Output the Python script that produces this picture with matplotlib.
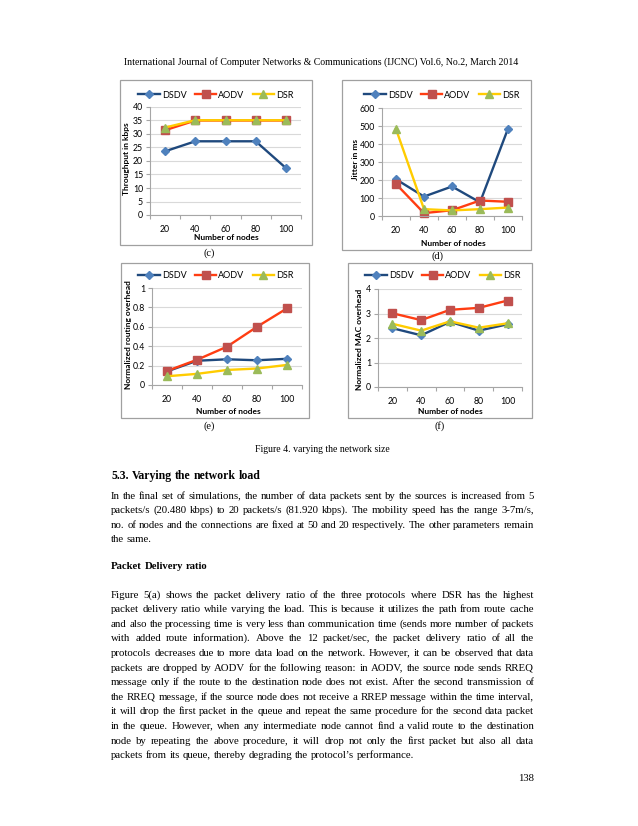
import math
import numpy as np
import matplotlib
matplotlib.use('Agg')
import matplotlib.pyplot as plt
from matplotlib.patches import Rectangle
from matplotlib.font_manager import FontProperties

# values
nodes = ['20', '40', '60', '80', '100']

thr_dsdv = [23.6, 27.3, 27.3, 27.3, 17.4]
thr_aodv = [31.4, 35.0, 35.0, 35.0, 35.0]
thr_dsr = [32.4, 35.1, 35.1, 35.1, 35.1]

jit_dsdv = [204, 108, 164, 76, 485]
jit_aodv = [178, 16, 32, 86, 79]
jit_dsr = [483, 38, 31, 38, 47]

nro_dsdv = [0.14, 0.25, 0.265, 0.255, 0.27]
nro_aodv = [0.145, 0.26, 0.395, 0.60, 0.79]
nro_dsr = [0.09, 0.115, 0.155, 0.17, 0.207]

mac_dsdv = [2.40, 2.11, 2.66, 2.30, 2.56]
mac_aodv = [3.01, 2.73, 3.15, 3.23, 3.53]
mac_dsr = [2.58, 2.30, 2.68, 2.42, 2.60]

header = 'International Journal of Computer Networks & Communications (IJCNC) Vol.6, No.2, March 2014'
fig_caption = 'Figure 4. varying the network size'
heading1 = '5.3. Varying the network load'
heading2 = 'Packet Delivery ratio'
para1 = [
    'In the final set of simulations, the number of data packets sent by the sources is increased from 5',
    'packets/s (20.480 kbps) to 20 packets/s (81.920 kbps). The mobility speed has the range 3-7m/s,',
    'no. of nodes and the connections are fixed at 50 and 20 respectively. The other parameters remain',
    'the same.',
]
para2 = [
    'Figure 5(a) shows the packet delivery ratio of the three protocols where DSR has the highest',
    'packet delivery ratio while varying the load. This is because it utilizes the path from route cache',
    'and also the processing time is very less than communication time (sends more number of packets',
    'with added route information). Above the 12 packet/sec, the packet delivery ratio of all the',
    'protocols decreases due to more data load on the network. However, it can be observed that data',
    'packets are dropped by AODV for the following reason: in AODV, the source node sends RREQ',
    'message only if the route to the destination node does not exist. After the second transmission of',
    'the RREQ message, if the source node does not receive a RREP message within the time interval,',
    'it will drop the first packet in the queue and repeat the same procedure for the second data packet',
    'in the queue. However, when any intermediate node cannot find a valid route to the destination',
    'node by repeating the above procedure, it will drop not only the first packet but also all data',
    'packets from its queue, thereby degrading the protocol\u2019s performance.',
]
page_no = '138'

W, H = 638, 826
fig = plt.figure(figsize=(W / 100, H / 100), dpi=100)
fig.patch.set_facecolor('white')
renderer = fig.canvas.get_renderer()

CHART_FONT = ['Lato', 'DejaVu Sans']
SERIF = ['Liberation Serif', 'DejaVu Serif']

styles = {
    'DSDV': dict(color='#1F497D', marker='D', mfc='#4F81BD', mec='#4F81BD', ms=4.2),
    'AODV': dict(color='#FF3D12', marker='s', mfc='#C0504D', mec='#C0504D', ms=5.2),
    'DSR': dict(color='#FFCC00', marker='^', mfc='#9BBB59', mec='#9BBB59', ms=5.8),
}


def fx(x):
    return x / W


def fy(y):
    return 1 - y / H


def chart(plot_px, frame_px, series, ylim, yticks, ytl, ylabel,
          leg_c, xl_c, yl_c, cap, cap_c):
    x0, y0, x1, y1 = frame_px
    fig.add_artist(Rectangle((fx(x0), fy(y1)), (x1 - x0) / W, (y1 - y0) / H,
                             transform=fig.transFigure, fill=False,
                             ec='#A0A0A0', lw=0.9))
    px0, py0, px1, py1 = plot_px
    ax = fig.add_axes([fx(px0), fy(py1), (px1 - px0) / W, (py1 - py0) / H])
    for name, vals in series:
        ax.plot(nodes, vals, label=name, lw=1.7, clip_on=False, **styles[name])
    ax.set_xlim(-0.5, 4.5)
    ax.set_ylim(ylim)
    ax.set_yticks(yticks)
    ax.set_yticklabels(ytl, family=CHART_FONT)
    ax.set_xticks(np.arange(-0.5, 5, 1), minor=True)
    for lab in ax.get_xticklabels():
        lab.set_family(CHART_FONT)
    ax.tick_params(axis='x', which='major', length=0, pad=7, labelsize=6.3)
    ax.tick_params(axis='x', which='minor', length=3, color='#A6A6A6', width=0.8)
    ax.tick_params(axis='y', length=3, color='#A6A6A6', width=0.8, pad=2, labelsize=6.3)
    ax.grid(axis='y', color='#D9D9D9', lw=0.8)
    ax.set_axisbelow(True)
    for s in ['top', 'right']:
        ax.spines[s].set_visible(False)
    for s in ['left', 'bottom']:
        ax.spines[s].set_color('#A6A6A6')
        ax.spines[s].set_linewidth(0.8)
    ax.legend(loc='center', bbox_to_anchor=(fx(leg_c[0]), fy(leg_c[1])),
              bbox_transform=fig.transFigure, ncol=3, frameon=False,
              prop={'family': CHART_FONT, 'size': 6.5}, handlelength=2.4,
              handletextpad=0.2, columnspacing=0.9, borderpad=0, borderaxespad=0)
    fig.text(fx(xl_c[0]), fy(xl_c[1]), 'Number of nodes', ha='center', va='center',
             family=CHART_FONT, weight='bold', size=6)
    fig.text(fx(yl_c[0]), fy(yl_c[1]), ylabel, ha='center', va='center', rotation=90,
             family=CHART_FONT, weight='bold', size=6)
    fig.text(fx(cap_c[0]), fy(cap_c[1]), cap, ha='center', va='center',
             family=SERIF, size=7.5)


chart((150, 107, 301, 215), (120, 80, 312, 245),
      [('DSDV', thr_dsdv), ('AODV', thr_aodv), ('DSR', thr_dsr)],
      (0, 40), np.arange(0, 41, 5), [str(v) for v in range(0, 41, 5)],
      'Throughput in kbps', (216, 95), (226, 238), (127, 159), '(c)', (209, 253))

chart((382, 108, 522, 216), (342, 80, 531, 250),
      [('DSDV', jit_dsdv), ('AODV', jit_aodv), ('DSR', jit_dsr)],
      (0, 600), np.arange(0, 601, 100), [str(v) for v in range(0, 601, 100)],
      'Jitter in ms', (442, 95), (453, 243), (355, 160), '(d)', (438, 256))

chart((152, 288, 302, 385), (121, 263, 309, 418),
      [('DSDV', nro_dsdv), ('AODV', nro_aodv), ('DSR', nro_dsr)],
      (0, 1), np.arange(0, 1.01, 0.2), ['0', '0.2', '0.4', '0.6', '0.8', '1'],
      'Normalized routing overhead', (216, 276), (228, 412), (128, 335), '(e)', (209, 426))

chart((378, 289, 522, 387), (348, 263, 532, 418),
      [('DSDV', mac_dsdv), ('AODV', mac_aodv), ('DSR', mac_dsr)],
      (0, 4), np.arange(0, 5, 1), ['0', '1', '2', '3', '4'],
      'Normalized MAC overhead', (443, 276), (450, 412), (359, 339), '(f)', (440, 426))


# ---- page text ----
def width_px(text, size, weight='normal'):
    t = fig.text(0, 0, text, family=SERIF, size=size, weight=weight)
    w = t.get_window_extent(renderer).width
    t.remove()
    return w


def baseline_shift(text, size, weight='normal'):
    # Agg rounds each text's bitmap on its own; this offset puts the
    # word's baseline back on the whole-pixel row that was asked for
    fp = FontProperties(family=SERIF, size=size, weight=weight)
    _, h, d = renderer.get_text_width_height_descent(text, fp, ismath=False)
    return math.floor(h + 1e-9) - math.floor(h - d + 1e-9) - d


def fit(text, target, weight='normal'):
    return 10 * target / width_px(text, 10, weight)


LEFT, RIGHT = 111, 534
body_size = min(fit(line, (RIGHT - LEFT) * 0.995) for line in para1[:-1] + para2[:-1])


def line_text(y, text, size, justify, weight='normal'):
    # one text per word so justified lines can spread their spaces
    words = text.split(' ')
    widths = [width_px(w, size, weight) for w in words]
    if justify and len(words) > 1:
        gap = (RIGHT - LEFT - sum(widths)) / (len(words) - 1)
    else:
        gap = width_px('a a', size, weight) - width_px('aa', size, weight)
    x = LEFT
    base = round(y + 0.33 * size * 100 / 72)
    for w, wd in zip(words, widths):
        fig.text(fx(x), fy(base + baseline_shift(w, size, weight)), w, family=SERIF,
                 size=size, weight=weight, va='baseline')
        x += wd + gap


def centre_text(x, y, text, size, weight='normal', ha='center'):
    base = round(y + 0.33 * size * 100 / 72)
    fig.text(fx(x), fy(base), text, family=SERIF, size=size, weight=weight,
             ha=ha, va='baseline')


centre_text(321, 62, header, fit(header, 394))
centre_text(322, 449, fig_caption, fit(fig_caption, 134))
line_text(475, heading1, fit(heading1, 149, 'bold'), False, 'bold')
for i, ln in enumerate(para1):
    line_text(495 + i * 14.5, ln, body_size, i < len(para1) - 1)
line_text(565, heading2, fit(heading2, 97, 'bold'), False, 'bold')
for i, ln in enumerate(para2):
    line_text(594 + i * 14.6, ln, body_size, i < len(para2) - 1)
centre_text(RIGHT, 777, page_no, body_size, ha='right')

fig.savefig('out.png', dpi=100, facecolor='white')
